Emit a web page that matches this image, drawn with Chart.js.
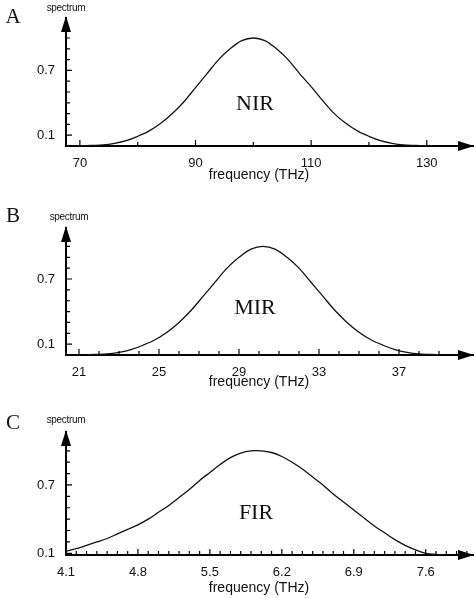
<!DOCTYPE html>
<html><head><meta charset="utf-8">
<script src="https://cdn.jsdelivr.net/npm/chart.js@4"></script>
<style>
body{margin:0;background:#fff;width:474px;height:598px;position:relative;overflow:hidden;font-family:'Liberation Sans',Arial,sans-serif}
canvas{position:absolute;left:0}
.t{position:absolute;white-space:nowrap;transform:translate(-50%,-50%);color:#111}
.let{font-family:'Liberation Serif',serif;font-size:21px}
.sp{font-size:10px;letter-spacing:-.3px}
.nm{font-family:'Liberation Serif',serif;font-size:22px}
.fq{font-size:14px}
</style></head><body>
<canvas id="cA" style="top:0" width="474" height="200"></canvas>
<canvas id="cB" style="top:200px" width="474" height="200"></canvas>
<canvas id="cC" style="top:400px" width="474" height="198"></canvas>
<div class="t let" style="left:13px;top:16px">A</div>
<div class="t sp" style="left:66px;top:7px">spectrum</div>
<div class="t nm" style="left:255px;top:103px">NIR</div>
<div class="t fq" style="left:259px;top:174px">frequency (THz)</div>
<div class="t let" style="left:13px;top:215px">B</div>
<div class="t sp" style="left:69px;top:216px">spectrum</div>
<div class="t nm" style="left:255px;top:307px">MIR</div>
<div class="t fq" style="left:259px;top:381px">frequency (THz)</div>
<div class="t let" style="left:13px;top:422px">C</div>
<div class="t sp" style="left:66px;top:419px">spectrum</div>
<div class="t nm" style="left:256px;top:512px">FIR</div>
<div class="t fq" style="left:259px;top:587px">frequency (THz)</div>
<script>
// ===== DATA =====
const nirX=[70,72,74,76,78,80,82,84,86,88,90,92,94,96,98,100,102,104,106,108,110,112,114,116,118,120,122,124,126,128,130];
const nirY=[0,0.005,0.01,0.025,0.05,0.09,0.14,0.21,0.30,0.41,0.54,0.67,0.80,0.90,0.975,1.0,0.975,0.90,0.80,0.67,0.55,0.42,0.30,0.21,0.14,0.09,0.05,0.025,0.01,0.005,0];
const nirLabels=[70,90,110,130];
const nirMinor=[70,80,90,100,110,120,130];

const mirX=[21.2,21.8,22.4,23,23.6,24.2,24.8,25.4,26,26.6,27.2,27.8,28.4,29,29.6,30.2,30.8,31.4,32,32.6,33.2,33.8,34.4,35,35.6,36.2,36.8,37.4,38,38.6,39.2];
const mirY=[0,0.005,0.01,0.025,0.05,0.09,0.14,0.21,0.30,0.41,0.54,0.67,0.80,0.90,0.975,1.0,0.975,0.90,0.80,0.67,0.54,0.41,0.30,0.21,0.14,0.09,0.05,0.025,0.01,0.005,0];
const mirLabels=[21,25,29,33,37];
const mirMinor=[21,22,23,24,25,26,27,28,29,30,31,32,33,34,35,36,37,38,39,40];

const firX=[4.1,4.2,4.3,4.4,4.5,4.6,4.7,4.8,4.9,5.0,5.1,5.2,5.3,5.4,5.5,5.6,5.7,5.8,5.9,6.0,6.1,6.2,6.3,6.4,6.5,6.6,6.7,6.8,6.9,7.0,7.1,7.2,7.3,7.4,7.5,7.6,7.7,7.8];
const firY=[0.12,0.14,0.17,0.20,0.23,0.27,0.31,0.35,0.40,0.46,0.52,0.59,0.66,0.74,0.81,0.88,0.94,0.98,1.0,1.0,0.985,0.95,0.90,0.84,0.77,0.70,0.62,0.55,0.48,0.41,0.34,0.28,0.22,0.17,0.13,0.10,0.09,0.085];
const firLabels=[4.1,4.8,5.5,6.2,6.9,7.6];
const firMinor=[4.1,4.2,4.3,4.4,4.5,4.6,4.7,4.8,4.9,5.0,5.1,5.2,5.3,5.4,5.5,5.6,5.7,5.8,5.9,6.0,6.1,6.2,6.3,6.4,6.5,6.6,6.7,6.8,6.9,7.0,7.1,7.2,7.3,7.4,7.5,7.6,7.7,7.8,7.9,8.0];

const yLabels=[0.1,0.7];
const yMinor=[0.1,0.2,0.3,0.4,0.5,0.6,0.7,0.8,0.9,1.0];

const has=(arr,v)=>arr.some(a=>Math.abs(a-v)<1e-6);

// inside ticks + arrowheads
function axisDeco(labels){return {id:'axisDeco',afterDraw(c){
  const ctx=c.ctx,a=c.chartArea,xs=c.scales.x,ys=c.scales.y;
  ctx.save();ctx.strokeStyle='#000';ctx.fillStyle='#000';ctx.lineWidth=1.2;
  ctx.beginPath();
  xs.ticks.forEach(t=>{const p=xs.getPixelForValue(t.value);if(p>a.left+2){ctx.moveTo(p,a.bottom);ctx.lineTo(p,a.bottom-(has(labels,t.value)?6:4));}});
  ys.ticks.forEach(t=>{const p=ys.getPixelForValue(t.value);ctx.moveTo(a.left,p);ctx.lineTo(a.left+(has(yLabels,t.value)?6:4),p);});
  ctx.stroke();
  ctx.beginPath();ctx.moveTo(a.left,a.top-2);ctx.lineTo(a.left-5,a.top+14);ctx.lineTo(a.left+5,a.top+14);ctx.closePath();ctx.fill();
  ctx.beginPath();ctx.moveTo(a.right+1,a.bottom);ctx.lineTo(a.right-15,a.bottom-5);ctx.lineTo(a.right-15,a.bottom+5);ctx.closePath();ctx.fill();
  ctx.restore();
}};}

function panel(id,xv,yv,labels,minor,xmin,xmax,ymin,ymax,top,bottomH){
  const font={family:"'Liberation Sans',Arial,sans-serif",size:13};
  return new Chart(document.getElementById(id),{type:'line',
    data:{datasets:[{data:xv.map((x,i)=>({x,y:yv[i]})),borderColor:'#111',borderWidth:1.3,pointRadius:0,tension:0.35,fill:false}]},
    options:{responsive:false,animation:false,layout:{padding:{top,right:1,left:0,bottom:0}},
      plugins:{legend:{display:false},tooltip:{enabled:false}},
      scales:{
        x:{type:'linear',min:xmin,max:xmax,grid:{display:false},border:{color:'#000',width:2},
          afterBuildTicks:s=>{s.ticks=minor.map(v=>({value:v}));},
          afterFit:s=>{s.height=bottomH;},
          ticks:{autoSkip:false,maxRotation:0,padding:2,color:'#111',font,callback:v=>has(labels,v)?String(v):''}},
        y:{type:'linear',min:ymin,max:ymax,grid:{display:false},border:{color:'#000',width:2},
          afterBuildTicks:s=>{s.ticks=yMinor.map(v=>({value:v}));},
          afterFit:s=>{s.width=66;},
          ticks:{autoSkip:false,padding:3,color:'#111',font,callback:v=>has(yLabels,v)?String(v):''}}
      }},plugins:[axisDeco(labels)]});
}
panel('cA',nirX,nirY,nirLabels,nirMinor,67.6,138,0,1.185,18,54);
panel('cB',mirX,mirY,mirLabels,mirMinor,20.35,40.7,0,1.17,28,45);
panel('cC',firX,firY,firLabels,firMinor,4.1,8.06,0.085,1.165,32,43);
</script></body></html>
